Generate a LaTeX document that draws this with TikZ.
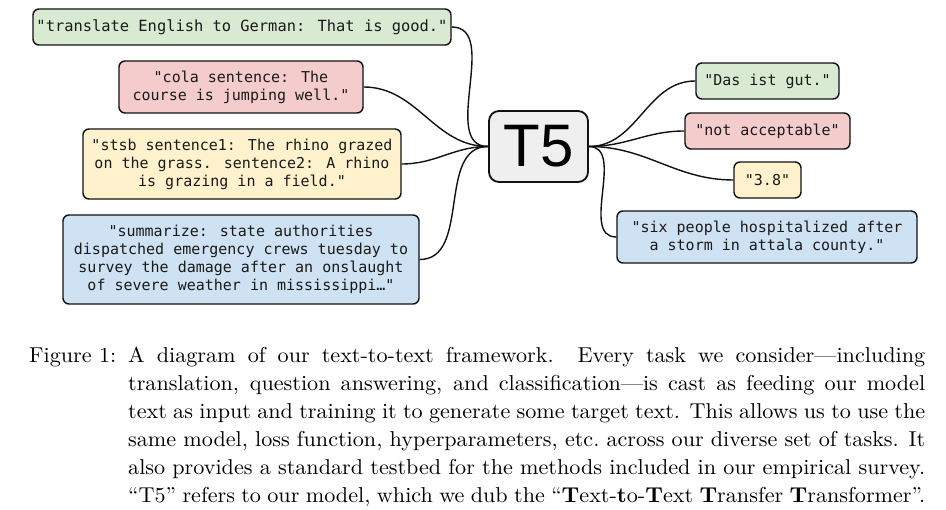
\documentclass[tikz,border=0pt]{standalone}
\usepackage{fontspec}
\newfontfamily\monof{DejaVu Sans Mono}
\newfontfamily\tfont{Liberation Sans}
\newfontfamily\capfont{lmroman10-regular.otf}[BoldFont=lmroman10-bold.otf, FakeStretch=1.03]
\definecolor{gfill}{HTML}{D9EAD3}
\definecolor{rfill}{HTML}{F4CCCC}
\definecolor{yfill}{HTML}{FFF2CC}
\definecolor{bfill}{HTML}{CFE2F3}
\definecolor{tfill}{HTML}{EFEFEF}
\definecolor{linec}{HTML}{111111}
\definecolor{textc}{HTML}{1A1A1A}
\tikzset{
  tbox/.style={draw=linec, line width=1.4pt, rounded corners=6pt, align=center,
    inner sep=0pt, text=textc, font=\monof\fontsize{15}{18}\selectfont},
  tfive/.style={draw=linec, line width=1.8pt, rounded corners=10pt, fill=tfill,
    inner sep=0pt, text=black, font=\tfont\fontsize{60}{60}\selectfont},
  conn/.style={draw=linec, line width=1.4pt},
  capline/.style={anchor=base west, inner sep=0pt, text=black,
    font=\capfont\fontsize{21.5}{28}\selectfont},
}
\newcommand{\cl}[1]{\makebox[797pt][s]{#1}}
\begin{document}
\begin{tikzpicture}[x=1pt,y=-1pt]
\fill[white] (0,0) rectangle (946,510);
\useasboundingbox (0,0) rectangle (946,510);

% inputs
\node[tbox, fill=gfill, minimum width=418pt, minimum height=36pt,
  font=\monof\fontsize{15.4}{18}\selectfont] (g1) at (242,27)
  {"translate English to German: That is good."};
\node[tbox, fill=rfill, minimum width=244pt, minimum height=52pt] (r1) at (241,87)
  {"cola sentence: The\\course is jumping well."};
\node[tbox, fill=yfill, minimum width=318pt, minimum height=70pt] (y1) at (242,164)
  {"stsb sentence1: The rhino grazed\\on the grass. sentence2: A rhino\\is grazing in a field."};
\node[tbox, fill=bfill, minimum width=356pt, minimum height=89pt] (b1) at (241,259.5)
  {"summarize: state authorities\\dispatched emergency crews tuesday to\\survey the damage after an onslaught\\of severe weather in mississippi…"};

% model
\node[tfive, minimum width=99pt, minimum height=71pt] (t5) at (538.5,146.5) {T5};

% outputs
\node[tbox, fill=gfill, minimum width=143pt, minimum height=36pt] (g2) at (767.5,81)
  {"Das ist gut."};
\node[tbox, fill=rfill, minimum width=165pt, minimum height=36pt] (r2) at (767.5,131)
  {"not acceptable"};
\node[tbox, fill=yfill, minimum width=67pt, minimum height=36pt] (y2) at (767.5,180)
  {"3.8"};
\node[tbox, fill=bfill, minimum width=300pt, minimum height=52pt] (b2) at (767,237)
  {"six people hospitalized after\\a storm in attala county."};

% connectors
\foreach \s in {g1,r1,y1,b1}
  \draw[conn] (\s.east) to[out=0,in=180] (t5.west);
\foreach \s in {g2,r2,y2,b2}
  \draw[conn] (t5.east) to[out=0,in=180] (\s.west);

% caption
\node[capline] (figlab) at (29,363) {Figure 1:};
\node[capline] (cap) at (128,363) {\parbox[t]{797pt}{\capfont\fontsize{21.5}{28}\selectfont
\cl{A diagram of our text-to-text framework. Every task we consider—including}\par
\cl{translation, question answering, and classification—is cast as feeding our model}\par
\cl{text as input and training it to generate some target text. This allows us to use the}\par
\cl{same model, loss function, hyperparameters, etc.\ across our diverse set of tasks. It}\par
\cl{also provides a standard testbed for the methods included in our empirical survey.}\par
\cl{“T5” refers to our model, which we dub the “\textbf{T}ext-\textbf{t}o-\textbf{T}ext \textbf{T}ransfer \textbf{T}ransformer”.}}};
\end{tikzpicture}
\end{document}
